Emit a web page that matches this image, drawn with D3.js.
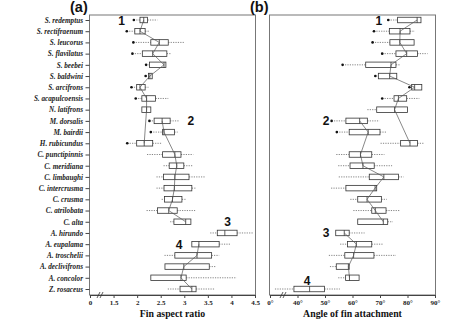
<!DOCTYPE html>
<html><head><meta charset="utf-8">
<script src="https://cdn.jsdelivr.net/npm/d3@7"></script>
<style>body{margin:0;background:#fff}svg{display:block}</style>
</head><body>
<svg id="c" width="474" height="325"></svg>
<script>
const species = ["S. redemptus","S. rectifraenum","S. leucorus","S. flavilatus","S. beebei","S. baldwini","S. arcifrons","S. acapulcoensis","N. latifrons","M. dorsalis","M. bairdii","H. rubicundus","C. punctipinnis","C. meridiana","C. limbaughi","C. intercrusma","C. crusma","C. atrilobata","C. alta","A. hirundo","A. eupalama","A. troschelii","A. declivifrons","A. concolor","Z. rosaceus"];

// Panel (a): fin aspect ratio
const aLo  = [1.96,1.85,1.97,1.95,2.22,2.20,1.92,2.00,2.10,2.30,2.35,1.84,2.21,2.56,2.41,2.41,2.52,2.20,2.70,3.55,3.16,2.58,2.59,2.29,2.65];
const aQ1  = [2.06,1.95,2.29,2.11,2.26,2.24,1.99,2.10,2.10,2.36,2.54,1.99,2.54,2.68,2.56,2.57,2.58,2.43,2.78,3.70,3.16,2.80,2.59,2.29,2.91];
const aMed = [2.14,2.06,2.47,2.33,2.57,2.27,2.06,2.20,2.20,2.53,2.57,2.15,2.80,2.84,2.80,2.79,2.75,2.67,3.03,3.86,3.31,3.27,2.99,2.93,3.16];
const aQ3  = [2.22,2.17,2.66,2.63,2.61,2.32,2.17,2.39,2.29,2.70,2.79,2.33,2.93,2.99,3.10,3.16,2.95,2.85,3.14,4.12,3.74,3.58,3.53,3.04,3.25];
const aHi  = [2.43,2.27,3.01,2.73,2.61,2.32,2.24,2.66,2.29,2.89,2.86,2.52,3.19,3.19,3.44,3.26,3.03,3.23,3.14,4.46,3.97,3.74,3.67,4.11,3.65];
const aOut = [1.93,1.78,1.92,1.90,2.19,2.18,1.88,1.97,null,2.26,2.29,1.79,null,null,null,null,null,null,null,null,null,null,null,null,null];
const aGroups = [[0,1,2,3,4,5,6,7,8,11],[9,10,12,13,14,15,16,17,18],[19],[20,21,22,23,24]];
const aTickVals = [1,1.5,2,2.5,3,3.5,4,4.5];
const aTickLabels = ["0","1.5","2","2.5","3","3.5","4","4.5"];
const aGroupNames = ["1","2","3","4"];
const aGroupX = [1.67,3.14,3.92,2.89];
const aGroupRow = [0,9,18,20];

// Panel (b): angle of fin attachment (degrees)
const bLo  = [74.0,69.0,68.5,72.0,57.5,69.0,81.0,72.0,65.4,53.4,55.5,70.2,54.1,54.8,55.0,52.2,59.2,60.3,61.9,53.9,55.5,51.4,51.8,54.8,31.8];
const bQ1  = [76.4,73.4,73.6,75.8,64.8,69.4,81.5,75.1,68.8,57.6,58.8,77.5,58.8,59.1,66.1,57.6,61.9,67.0,61.9,53.9,58.2,57.2,54.1,57.5,38.7];
const bMed = [83.5,77.3,77.2,79.7,74.0,73.5,82.6,76.7,75.3,62.6,65.7,80.9,62.9,63.8,71.4,68.2,65.3,68.3,71.2,57.0,61.4,60.4,58.5,58.9,44.4];
const bQ3  = [84.9,80.9,82.4,83.6,75.8,76.1,85.2,79.7,80.0,65.4,70.0,83.6,67.0,67.9,76.7,68.8,70.5,72.2,72.8,58.8,67.0,67.8,58.8,62.4,49.8];
const bHi  = [84.9,82.7,82.4,87.3,77.3,76.1,85.2,84.3,80.0,69.8,72.6,85.8,71.6,74.4,78.6,68.8,72.5,77.3,74.7,64.4,71.2,75.8,58.8,62.4,55.4];
const bOut = [73.0,67.8,67.3,70.8,56.4,68.3,80.7,70.8,null,52.4,54.3,null,null,null,null,null,null,null,null,null,null,null,null,null,null];
const bGroups = [[0,1,2,3,4,5,6,7,8,11],[9,10,12,13,14,15,16,17,18],[19,20,21,22,23],[24]];
const bTickVals = [30,40,50,60,70,80,90];
const bTickLabels = ["0°","40°","50°","60°","70°","80°","90°"];
const bGroupNames = ["1","2","3","4"];
const bGroupX = [69.6,50.4,50.4,43.5];
const bGroupRow = [0,9,19,24];
const bGroupDy = [0,0,0,-9];

const svg = d3.select("#c");
const frameTop = 15, frameBottom = 295;
const y = d3.scalePoint().domain(species).range([20, 289]);

function panel(x0, x1, dom, lo, q1, med, q3, hi, out, groups, tv, tl, gNames, gX, gRow, gDy, title, xTitle, yLabels, breakX) {
  const x = d3.scaleLinear().domain(dom).range([x0, x1]);
  const g = svg.append("g");
  g.append("rect").attr("x", x0 - 0.5).attr("y", frameTop).attr("width", x1 - x0 + 1).attr("height", frameBottom - frameTop)
    .attr("fill", "none").attr("stroke", "#777").attr("stroke-width", 1);
  const xa = g.append("g").attr("transform", `translate(0,${frameBottom})`)
    .call(d3.axisBottom(x).tickValues(tv).tickFormat((d, i) => tl[i]).tickSize(3).tickPadding(2));
  xa.select(".domain").attr("stroke", "#444");
  xa.selectAll(".tick line").attr("stroke", "#444");
  xa.selectAll("text").attr("font-family", "Liberation Serif, serif").attr("font-weight", "bold").attr("font-size", 7).attr("fill", "#222");
  const bx = breakX;
  g.append("path").attr("d", `M${bx-3},${frameBottom+3}L${bx},${frameBottom-3}M${bx},${frameBottom+3}L${bx+3},${frameBottom-3}`)
    .attr("stroke", "#333").attr("stroke-width", 0.8).attr("fill", "none");
  if (yLabels) {
    const ya = g.append("g").attr("transform", `translate(${x0 - 0.5},0)`)
      .call(d3.axisLeft(y).tickSize(4).tickPadding(2.5));
    ya.select(".domain").remove();
    ya.selectAll(".tick line").attr("stroke", "#444");
    ya.selectAll("text").attr("font-family", "Liberation Serif, serif").attr("font-weight", "bold")
      .attr("font-style", "italic").attr("font-size", 7.2).attr("fill", "#222");
  }
  const line = d3.line().x(i => x(med[i])).y(i => y(species[i]));
  const bh = 5.5;
  species.forEach((s, i) => {
    const yy = y(s);
    const start = out[i] != null ? out[i] : lo[i];
    if (start < q1[i]) g.append("line").attr("x1", x(start)).attr("x2", x(q1[i])).attr("y1", yy).attr("y2", yy)
      .attr("stroke", "#666").attr("stroke-width", 0.8).attr("stroke-dasharray", "1.2,1.2");
    if (hi[i] > q3[i]) g.append("line").attr("x1", x(q3[i])).attr("x2", x(hi[i])).attr("y1", yy).attr("y2", yy)
      .attr("stroke", "#666").attr("stroke-width", 0.8).attr("stroke-dasharray", "1.2,1.2");
    g.append("rect").attr("x", x(q1[i])).attr("y", yy - bh / 2).attr("width", x(q3[i]) - x(q1[i])).attr("height", bh)
      .attr("fill", "#fff").attr("stroke", "#333").attr("stroke-width", 0.8);
    g.append("line").attr("x1", x(med[i])).attr("x2", x(med[i])).attr("y1", yy - bh / 2).attr("y2", yy + bh / 2)
      .attr("stroke", "#333").attr("stroke-width", 0.8);
    if (out[i] != null) g.append("circle").attr("cx", x(out[i])).attr("cy", yy).attr("r", 1.3).attr("fill", "#111");
  });
  groups.forEach(gr => {
    g.append("path").attr("d", line(gr)).attr("fill", "none").attr("stroke", "#555").attr("stroke-width", 0.7);
  });
  gNames.forEach((n, k) => {
    g.append("text").attr("x", x(gX[k])).attr("y", y(species[gRow[k]]) + (gDy ? gDy[k] : 0) + 4.5)
      .attr("text-anchor", "middle").attr("font-family", "Liberation Sans, Arial, sans-serif")
      .attr("font-weight", "bold").attr("font-size", 12).attr("fill", "#111").text(n);
  });
  g.append("text").attr("x", x0 - 20).attr("y", 12).attr("font-family", "Liberation Sans, Arial, sans-serif")
    .attr("font-weight", "bold").attr("font-size", 14.5).attr("fill", "#111").text(title);
  g.append("text").attr("x", (x0 + x1) / 2).attr("y", 317).attr("text-anchor", "middle")
    .attr("font-family", "Liberation Serif, serif").attr("font-weight", "bold").attr("font-size", 9.8)
    .attr("fill", "#111").text(xTitle);
}

panel(90, 255, [1, 4.5], aLo, aQ1, aMed, aQ3, aHi, aOut, aGroups, aTickVals, aTickLabels,
  aGroupNames, aGroupX, aGroupRow, null, "(a)", "Fin aspect ratio", true, 100);
panel(270, 435, [30, 90], bLo, bQ1, bMed, bQ3, bHi, bOut, bGroups, bTickVals, bTickLabels,
  bGroupNames, bGroupX, bGroupRow, bGroupDy, "(b)", "Angle of fin attachment", false, 283);
</script>
</body></html>
